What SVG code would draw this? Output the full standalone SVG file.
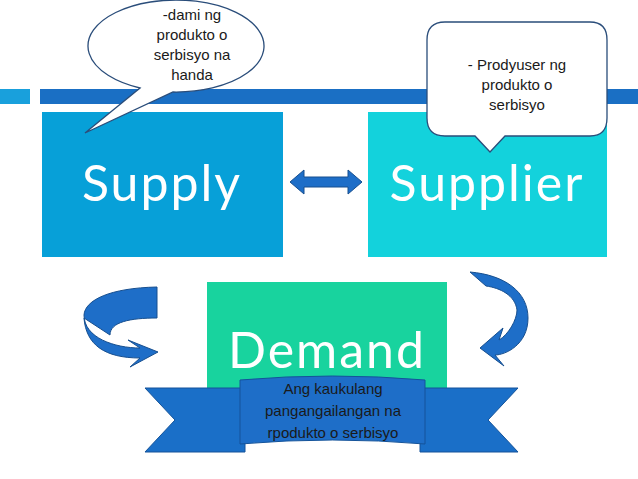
<svg xmlns="http://www.w3.org/2000/svg" width="638" height="479" viewBox="0 0 638 479">
<style>
.big{font-family:"Lato","Open Sans",sans-serif;fill:#fff;font-size:50px;letter-spacing:2px;text-anchor:middle}
.sm{font-family:"Liberation Sans",Arial,sans-serif;font-size:15px;fill:#1a1a1a;text-anchor:middle}
.call{fill:#fff;stroke:#2a4d7a;stroke-width:1.3}
.arr{fill:#1e6ec8;stroke:#174f8f;stroke-width:1}
</style>
<rect width="638" height="479" fill="#fff"/>
<rect x="0" y="89" width="30" height="15" fill="#19a0dc"/>
<rect x="40" y="89" width="598" height="15" fill="#1a6fc4"/>
<g id="supply"><rect x="42" y="112" width="241" height="145" fill="#07a0d8"/><text class="big" x="162" y="201">Supply</text></g>
<g id="supplier"><rect x="368" y="112" width="239" height="145" fill="#13d2dc"/><text class="big" x="487" y="201">Supplier</text></g>
<g id="demand"><rect x="207" y="282" width="240" height="110" fill="#18d39e"/><text class="big" x="327" y="368">Demand</text></g>
<g id="connectors">
<path class="arr" d="M290,182 L304,170 L304,177 L348,177 L348,170 L362,182 L348,194 L348,187 L304,187 L304,194 Z"/>
<path class="arr" d="M157,287 C110,288 85,300 84,315 C84,338 115,348 140,348 L128,340 L158,352 L130,367 L140,358 C105,358 86,345 84,318 L110,335 C110,322 130,318 157,318 Z"/>
<path class="arr" d="M470,272 C505,275 528,292 528,318 C528,345 505,355 495,355 L504,366 L480,348 L503,328 L499,340 C508,335 517,320 517,310 C515,295 500,288 486,286 Z"/>
</g>
<g id="ribbon">
<path d="M145,388 L245,388 L245,452 L145,452 L175,420 Z" fill="#1a6fc8" stroke="#14539a"/>
<path d="M518,388 L420,388 L420,452 L518,452 L488,420 Z" fill="#1a6fc8" stroke="#14539a"/>
<path d="M240,380 Q332,372 425,380 L425,444 Q332,436 240,444 Z" fill="#1e6ec8" stroke="#14539a"/>
<text class="sm" x="333" y="394">Ang kaukulang</text>
<text class="sm" x="333" y="416">pangangailangan na</text>
<text class="sm" x="333" y="438">rpodukto o serbisyo</text>
</g>
<g id="callout1">
<path class="call" d="M140,88 A88,46 0 1 1 173,92 L85,133 Z"/>
<text class="sm" x="192" y="20">-dami ng</text>
<text class="sm" x="192" y="40">produkto o</text>
<text class="sm" x="192" y="60">serbisyo na</text>
<text class="sm" x="192" y="80">handa</text>
</g>
<g id="callout2">
<path class="call" d="M445,22 L590,22 Q607,22 607,40 L607,118 Q607,136 590,136 L505,136 L490,152 L475,136 L445,136 Q427,136 427,118 L427,40 Q427,22 445,22 Z"/>
<text class="sm" x="517" y="70">- Prodyuser ng</text>
<text class="sm" x="517" y="90">produkto o</text>
<text class="sm" x="517" y="110">serbisyo</text>
</g>
</svg>
